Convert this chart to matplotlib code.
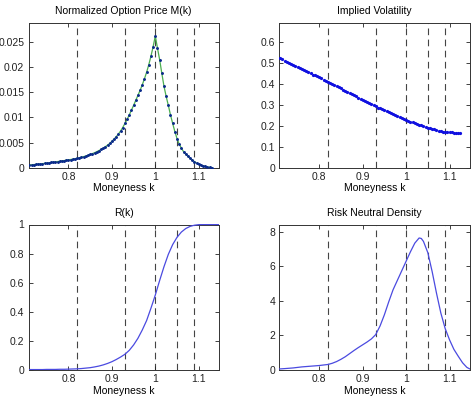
import numpy as np
import matplotlib
matplotlib.use("Agg")
import matplotlib.pyplot as plt

plt.rcParams['font.family'] = ['Liberation Sans', 'DejaVu Sans']
plt.rcParams['font.size'] = 7.5

# strikes (moneyness k)
strikes = [
    0.710, 0.715, 0.720, 0.725, 0.730, 0.735, 0.740, 0.745, 0.750, 0.755,
    0.760, 0.765, 0.770, 0.775, 0.780, 0.785, 0.790, 0.795, 0.800, 0.805,
    0.810, 0.815, 0.820, 0.825, 0.830, 0.835, 0.840, 0.845, 0.850, 0.855,
    0.860, 0.865, 0.870, 0.875, 0.880, 0.885, 0.890, 0.895, 0.900, 0.905,
    0.910, 0.915, 0.920, 0.925, 0.930, 0.935, 0.940, 0.945, 0.950, 0.955,
    0.960, 0.965, 0.970, 0.975, 0.980, 0.985, 0.990, 0.995, 1.000, 1.005,
    1.010, 1.015, 1.020, 1.025, 1.030, 1.035, 1.040, 1.045, 1.050, 1.055,
    1.060, 1.065, 1.070, 1.075, 1.080, 1.085, 1.090, 1.095, 1.100, 1.105,
    1.110, 1.115, 1.120, 1.125, 1.130,
]

# normalized option price M(k)
option_price = [
    0.00054, 0.00058, 0.00062, 0.00066, 0.00070, 0.00075, 0.00080, 0.00086, 0.00092, 0.00098,
    0.00104, 0.00110, 0.00116, 0.00122, 0.00128, 0.00135, 0.00142, 0.00149, 0.00156, 0.00163,
    0.00171, 0.00179, 0.00188, 0.00198, 0.00209, 0.00221, 0.00234, 0.00248, 0.00263, 0.00280,
    0.00298, 0.00318, 0.00340, 0.00364, 0.00390, 0.00418, 0.00449, 0.00483, 0.00525, 0.00570,
    0.00618, 0.00670, 0.00730, 0.00800, 0.00880, 0.00960, 0.01050, 0.01145, 0.01240, 0.01340,
    0.01440, 0.01540, 0.01650, 0.01770, 0.01900, 0.02050, 0.02220, 0.02410, 0.02620, 0.02380,
    0.02150, 0.01880, 0.01620, 0.01420, 0.01240, 0.01050, 0.00880, 0.00720, 0.00580, 0.00470,
    0.00390, 0.00320, 0.00270, 0.00225, 0.00190, 0.00155, 0.00122, 0.00092, 0.00068, 0.00050,
    0.00035, 0.00024, 0.00015, 0.00008, 0.00003,
]

# implied volatility (same strikes, last one missing)
implied_vol = [
    0.524, 0.519, 0.513, 0.508, 0.503, 0.497, 0.492, 0.487, 0.482, 0.477,
    0.471, 0.466, 0.461, 0.456, 0.451, 0.446, 0.442, 0.437, 0.432, 0.427,
    0.422, 0.417, 0.412, 0.407, 0.402, 0.396, 0.390, 0.385, 0.380, 0.374,
    0.369, 0.363, 0.358, 0.352, 0.347, 0.342, 0.336, 0.331, 0.325, 0.320,
    0.315, 0.309, 0.304, 0.298, 0.293, 0.288, 0.284, 0.279, 0.274, 0.270,
    0.265, 0.261, 0.256, 0.251, 0.247, 0.242, 0.238, 0.233, 0.228, 0.225,
    0.221, 0.217, 0.213, 0.210, 0.206, 0.202, 0.199, 0.195, 0.191, 0.189,
    0.186, 0.183, 0.180, 0.178, 0.175, 0.172, 0.171, 0.170, 0.170, 0.169,
    0.168, 0.168, 0.167, 0.167,
]

# R(k)
r_k = [0.708, 0.72, 0.73, 0.74, 0.75, 0.76, 0.77, 0.78, 0.79, 0.80,
       0.81, 0.82, 0.83, 0.84, 0.85, 0.86, 0.87, 0.88, 0.89, 0.90,
       0.91, 0.92, 0.93, 0.94, 0.95, 0.96, 0.97, 0.98, 0.99, 1.00,
       1.01, 1.02, 1.03, 1.04, 1.05, 1.06, 1.07, 1.08, 1.09, 1.10,
       1.11, 1.12, 1.13, 1.14, 1.146]
r_val = [0.003, 0.003, 0.003, 0.003, 0.004, 0.004, 0.004, 0.005, 0.005, 0.006,
         0.007, 0.008, 0.010, 0.013, 0.016, 0.021, 0.027, 0.035, 0.045, 0.057,
         0.072, 0.089, 0.108, 0.135, 0.172, 0.218, 0.275, 0.340, 0.425, 0.515,
         0.615, 0.710, 0.795, 0.862, 0.912, 0.948, 0.972, 0.987, 0.995, 0.999,
         1.0, 1.0, 1.0, 1.0, 1.0]

# risk neutral density
rnd_k = [0.708, 0.72, 0.73, 0.74, 0.75, 0.76, 0.77, 0.78, 0.79, 0.80,
         0.81, 0.82, 0.83, 0.84, 0.85, 0.86, 0.87, 0.88, 0.89, 0.90,
         0.91, 0.92, 0.93, 0.94, 0.95, 0.96, 0.97, 0.98, 0.99, 1.00,
         1.01, 1.02, 1.03, 1.035, 1.04, 1.05, 1.06, 1.07, 1.08, 1.09,
         1.10, 1.11, 1.12, 1.13, 1.14, 1.146]
rnd_val = [0.06, 0.08, 0.10, 0.12, 0.15, 0.18, 0.20, 0.22, 0.24, 0.26,
           0.29, 0.32, 0.39, 0.49, 0.62, 0.77, 0.95, 1.13, 1.30, 1.46,
           1.62, 1.80, 2.05, 2.55, 3.20, 3.95, 4.65, 5.20, 5.75, 6.30,
           6.85, 7.35, 7.65, 7.62, 7.45, 6.80, 5.70, 4.45, 3.30, 2.40,
           1.75, 1.20, 0.80, 0.42, 0.15, 0.07]

# dashed reference lines
ref_k = [0.82, 0.93, 1.0, 1.05, 1.09]

XLIM = (0.708, 1.146)
XTICKS = [0.8, 0.9, 1.0, 1.1]
XTICKLABELS = ['0.8', '0.9', '1', '1.1']


def style_axes(ax, title, yticks, yticklabels, ylim):
    ax.set_xlim(*XLIM)
    ax.set_ylim(*ylim)
    ax.set_xticks(XTICKS)
    ax.set_xticklabels(XTICKLABELS)
    ax.set_yticks(yticks)
    ax.set_yticklabels(yticklabels)
    ax.tick_params(direction='in', top=True, right=True, length=3, width=0.6,
                   colors='#222222', labelsize=7.5, pad=3)
    for s in ax.spines.values():
        s.set_linewidth(0.7)
        s.set_color('#333333')
    for k in ref_k:
        ax.axvline(k, color='#444444', linestyle=(0, (6, 4)), linewidth=0.8, zorder=1)
    ax.set_title(title, fontsize=7.5, pad=6)
    ax.set_xlabel('Moneyness k', fontsize=7.5, labelpad=1)


fig = plt.figure(figsize=(4.74, 3.99), dpi=100)
W, H = 474, 399


def add_axes(left, top, right, bottom):
    return fig.add_axes([left / W, 1 - bottom / H, (right - left) / W, (bottom - top) / H])


ax1 = add_axes(28.5, 22.5, 218.7, 167.7)
ax2 = add_axes(279.3, 22.5, 469.5, 167.7)
ax3 = add_axes(28.5, 224.5, 218.7, 370)
ax4 = add_axes(279.3, 224.5, 469.5, 370)

# option price
ax1.plot(strikes, option_price, color='#4caf50', linewidth=0.9, zorder=2)
ax1.plot(strikes, option_price, linestyle='none', marker='.', markersize=2.2,
         color='#0a2a8a', zorder=3)
style_axes(ax1, 'Normalized Option Price M(k)',
           [0, 0.005, 0.01, 0.015, 0.02, 0.025],
           ['0', '0.005', '0.01', '0.015', '0.02', '0.025'], (0, 0.0289))

# implied volatility
ax2.plot(strikes[:len(implied_vol)], implied_vol, linestyle='none', marker='.',
         markersize=2.6, color='#1010e0', zorder=3)
style_axes(ax2, 'Implied Volatility',
           [0, 0.1, 0.2, 0.3, 0.4, 0.5, 0.6],
           ['0', '0.1', '0.2', '0.3', '0.4', '0.5', '0.6'], (0, 0.695))

# R(k)
ax3.plot(r_k, r_val, color='#4a4ae0', linewidth=0.9, zorder=3)
style_axes(ax3, 'R(k)', [0, 0.2, 0.4, 0.6, 0.8, 1.0],
           ['0', '0.2', '0.4', '0.6', '0.8', '1'], (0, 1.0))

# risk neutral density
ax4.plot(rnd_k, rnd_val, color='#4a4ae0', linewidth=0.9, zorder=3)
style_axes(ax4, 'Risk Neutral Density', [0, 2, 4, 6, 8],
           ['0', '2', '4', '6', '8'], (0, 8.43))

fig.savefig('out.png', dpi=100, facecolor='white')
